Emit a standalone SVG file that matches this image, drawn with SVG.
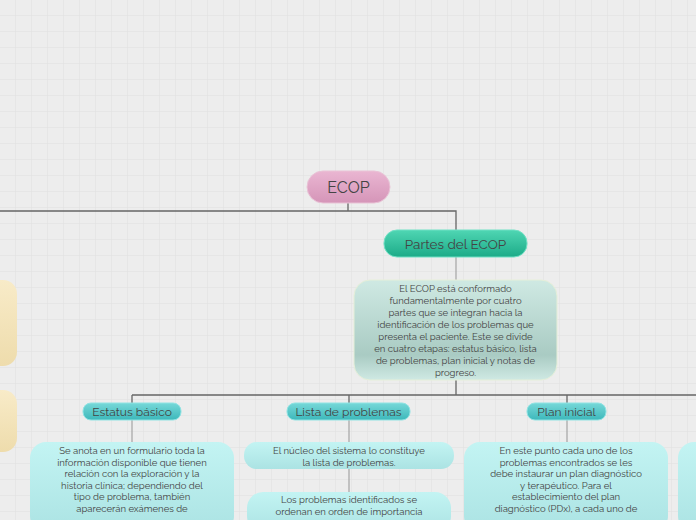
<svg xmlns="http://www.w3.org/2000/svg" width="696" height="520" viewBox="0 0 696 520">
<defs>
<pattern id="grid" width="16" height="16" patternUnits="userSpaceOnUse"><rect width="16" height="16" fill="#ededed"/><path d="M16 0V16H0" fill="none" stroke="#e0e0e0" stroke-width="1"/></pattern>
<linearGradient id="pink" x1="0" y1="0" x2="0" y2="1"><stop offset="0" stop-color="#eab6d2"/><stop offset="1" stop-color="#d595b8"/></linearGradient>
<linearGradient id="green" x1="0" y1="0" x2="0" y2="1"><stop offset="0" stop-color="#4fd6b3"/><stop offset="1" stop-color="#1cab88"/></linearGradient>
<linearGradient id="teal" x1="0" y1="0" x2="0" y2="1"><stop offset="0" stop-color="#76d8d8"/><stop offset="1" stop-color="#3db8bb"/></linearGradient>
<linearGradient id="mint" x1="0" y1="0" x2="0" y2="1"><stop offset="0" stop-color="#cfe9e3"/><stop offset="0.75" stop-color="#a9cbc3"/><stop offset="1" stop-color="#cfe9e3"/></linearGradient>
<linearGradient id="cyan" x1="0" y1="0" x2="0" y2="1"><stop offset="0" stop-color="#c3f4f3"/><stop offset="1" stop-color="#abe3e3"/></linearGradient>
<linearGradient id="beige" x1="0" y1="0" x2="0" y2="1"><stop offset="0" stop-color="#f8ebc8"/><stop offset="1" stop-color="#eedcac"/></linearGradient>
</defs>
<style>
text{font-family:Raleway,"Open Sans","Noto Sans",sans-serif;fill:#444;text-anchor:middle}
.t{font-size:9.5px}
.h{font-size:12px}
.c{fill:none;stroke:#666;stroke-width:1.3}
.c2{fill:none;stroke:#aaa;stroke-width:1.3}
</style>
<rect width="696" height="520" fill="url(#grid)"/>
<g id="connectors">
<path class="c" d="M348 203V211M0 211H456V231"/>
<path class="c2" d="M456 257V280"/>
<path class="c" d="M456 380V395M132 395H696M132 395V403M349 395V403M567 395V403"/>
<path class="c2" d="M132 420V442M349 420V442M567 420V442M349 469V492"/>
</g>
<g id="left1"><rect x="-20" y="280" width="37" height="86" rx="14" fill="url(#beige)"/></g>
<g id="left2"><rect x="-20" y="390" width="37" height="62" rx="14" fill="url(#beige)"/></g>
<g id="ecop"><rect x="307" y="171" width="83" height="32" rx="16" fill="url(#pink)" stroke="#e9c3d6"/><text x="348.5" y="193" font-size="16">ECOP</text></g>
<g id="partes"><rect x="384" y="230" width="143" height="27" rx="13" fill="url(#green)" stroke="#6fe0c4"/><text x="455.5" y="248.5" font-size="13.5">Partes del ECOP</text></g>
<g id="desc"><rect x="354" y="280" width="203" height="100" rx="16" fill="url(#mint)" stroke="#e6efd9"/>
<text class="t" x="455.5"><tspan x="455.5" y="292">El ECOP está conformado</tspan><tspan x="455.5" y="304">fundamentalmente por cuatro</tspan><tspan x="455.5" y="316">partes que se integran hacia la</tspan><tspan x="455.5" y="328">identificación de los problemas que</tspan><tspan x="455.5" y="340">presenta el paciente. Este se divide</tspan><tspan x="455.5" y="352">en cuatro etapas: estatus básico, lista</tspan><tspan x="455.5" y="364">de problemas, plan inicial y notas de</tspan><tspan x="455.5" y="376">progreso.</tspan></text></g>
<g id="estatus"><rect x="83" y="403" width="98" height="17" rx="8" fill="url(#teal)" stroke="#8fe3e3"/><text class="h" x="132" y="415.5">Estatus básico</text></g>
<g id="lista"><rect x="287" y="403" width="123" height="17" rx="8" fill="url(#teal)" stroke="#8fe3e3"/><text class="h" x="348.5" y="415.5">Lista de problemas</text></g>
<g id="plan"><rect x="527" y="403" width="79" height="17" rx="8" fill="url(#teal)" stroke="#8fe3e3"/><text class="h" x="566.5" y="415.5">Plan inicial</text></g>
<g id="estatus-text"><rect x="30" y="442" width="204" height="90" rx="16" fill="url(#cyan)"/>
<text class="t"><tspan x="132" y="454">Se anota en un formulario toda la</tspan><tspan x="132" y="465.5">información disponible que tienen</tspan><tspan x="132" y="477">relación con la exploración y la</tspan><tspan x="132" y="488.5">historia clínica; dependiendo del</tspan><tspan x="132" y="500">tipo de problema, también</tspan><tspan x="132" y="511.5">aparecerán exámenes de</tspan></text></g>
<g id="lista-text1"><rect x="244" y="442" width="210" height="27" rx="13" fill="url(#cyan)"/>
<text class="t"><tspan x="349" y="454">El núcleo del sistema lo constituye</tspan><tspan x="349" y="465.5">la lista de problemas.</tspan></text></g>
<g id="lista-text2"><rect x="247" y="492" width="204" height="40" rx="16" fill="url(#cyan)"/>
<text class="t"><tspan x="349" y="503">Los problemas identificados se</tspan><tspan x="349" y="514.5">ordenan en orden de importancia</tspan></text></g>
<g id="plan-text"><rect x="464" y="442" width="204" height="90" rx="16" fill="url(#cyan)"/>
<text class="t"><tspan x="566" y="454">En este punto cada uno de los</tspan><tspan x="566" y="465.5">problemas encontrados se les</tspan><tspan x="566" y="477">debe instaurar un plan diagnóstico</tspan><tspan x="566" y="488.5">y terapéutico. Para el</tspan><tspan x="566" y="500">establecimiento del plan</tspan><tspan x="566" y="511.5">diagnóstico (PDx), a cada uno de</tspan></text></g>
<g id="right"><rect x="678" y="442" width="60" height="90" rx="16" fill="url(#cyan)"/></g>
</svg>
